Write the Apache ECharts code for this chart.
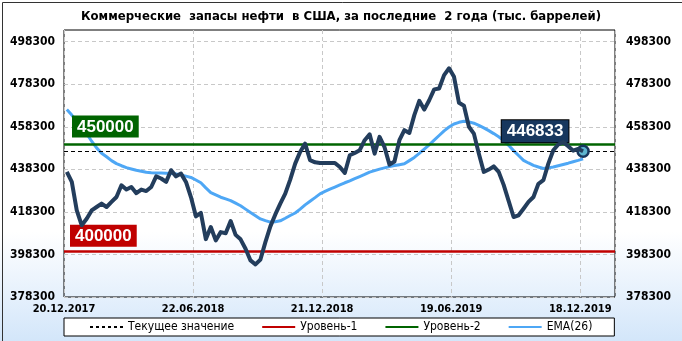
<!DOCTYPE html>
<html><head><meta charset="utf-8">
<script src="https://cdn.jsdelivr.net/npm/echarts@6/dist/echarts.min.js"></script>
<style>html,body{margin:0;padding:0;background:#fff}#c{width:682px;height:341px}</style>
</head><body><div id="c"></div>
<script>
const chartTitle = 'Коммерческие  запасы нефти  в США, за последние  2 года (тыс. баррелей)';
const xTickLabels = ['20.12.2017', '22.06.2018', '21.12.2018', '19.06.2019', '18.12.2019'];
const yTicks = [378300, 398300, 418300, 438300, 458300, 478300, 498300];
const legendNames = ['Текущее значение', 'Уровень-1', 'Уровень-2', 'EMA(26)'];
const axisStartDate = '2017-12-20';
const firstPointDate = '2017-12-24';
const level1 = 400000;
const level2 = 450000;
// weekly commercial crude stocks, thousand barrels
const stocks = [
  437100, 432400, 419000, 412000, 415100, 419000, 420600, 422200, 420600, 423000,
  425300, 430800, 428800, 430000, 427100, 428800, 428100, 430000, 435000, 434000,
  432400, 437900, 435000, 436300, 432400, 425300, 416200, 417800, 405500, 411200,
  404900, 408800, 408300, 414000, 407500, 405400, 401000, 395500, 393600, 395900,
  404100, 411500, 417100, 422200, 426900, 433500, 441000, 446500, 450400, 442600,
  441600, 441300, 441300, 441300, 441300, 439400, 436600, 444900, 446000, 447300,
  452000, 454800, 445700, 453600, 448700, 440500, 442000, 452000, 456700, 455400,
  463800, 470500, 466400, 470800, 475900, 476300, 482600, 485800, 481800, 469600,
  468200, 458300, 455100, 445700, 437100, 438200, 439700, 437100, 431000, 423500,
  415900, 416700, 419800, 423000, 425300, 431500, 433200, 441000, 447300, 450000,
  451100, 449200, 447100, 447900, 446833
];
const ema26 = [
  466400, 463800, 460900, 458000, 455100, 451500, 448400, 445900, 444200, 442400,
  441000, 440000, 439100, 438500, 437900, 437400, 436900, 436700, 436600, 436600,
  436500, 436400, 436100, 435700, 435100, 434500, 433300, 432000, 429600, 427400,
  426300, 425200, 424400, 423600, 422400, 421200, 419600, 418000, 416500, 415000,
  414200, 413500, 413700, 414100, 415300, 416600, 417800, 419600, 421600, 423300,
  425000, 426800, 427900, 429000, 430000, 431000, 432000, 432900, 433900, 434900,
  435900, 437000, 437700, 438400, 439000, 439600, 440100, 440500, 440900, 442400,
  443900, 445800, 447800, 449800, 452000, 454200, 456400, 458200, 459600, 460400,
  460900, 460600, 460000, 459000, 457800, 456500, 455100, 453600, 451900, 449600,
  447100, 444800, 442500, 441300, 440200, 439400, 438700, 439000, 439400, 440000,
  440600, 441200, 441900, 442500, 443200
];

const DAY = 86400000;
const t0 = Date.parse(axisStartDate);
const t1 = Date.parse(firstPointDate);
const dayOf = i => Math.round((t1 - t0) / DAY) + 7 * i;
const stockData = stocks.map((v, i) => [dayOf(i), v]);
const emaData = ema26.map((v, i) => [dayOf(i), v]);
const lastIdx = stocks.length - 1;
const current = stocks[lastIdx];
const xStep = 182;
const xMax = 777;

const FONT = '"DejaVu Sans Condensed", "DejaVu Sans", sans-serif';
const chart = echarts.init(document.getElementById('c'), null, {renderer: 'canvas'});

const yAxisCommon = {
  type: 'value', min: yTicks[0], max: 503800,
  axisLine: {show: false}, axisTick: {show: false, customValues: yTicks},
  axisLabel: {customValues: yTicks, formatter: v => String(v), color: '#000', fontWeight: 'bold', fontSize: 12, fontFamily: FONT},
  splitLine: {show: true, lineStyle: {color: '#c8c8c8', type: [4, 3], width: 1}}
};

chart.setOption({
  backgroundColor: {
    type: 'linear', x: 0, y: 0, x2: 0, y2: 1,
    colorStops: [{offset: 0, color: '#ffffff'}, {offset: 0.68, color: '#ffffff'}, {offset: 1, color: '#d3e6fa'}]
  },
  animation: false,
  title: {
    text: chartTitle, left: 'center', top: 5,
    textStyle: {fontSize: 13, fontWeight: 'bold', color: '#000', fontFamily: FONT}
  },
  grid: {left: 64, right: 67, top: 30, bottom: 44, show: true, borderColor: '#000', borderWidth: 1, backgroundColor: 'transparent'},
  legend: {
    data: legendNames, bottom: 5, left: 64,
    padding: [3, 22, 3, 25], itemGap: 27, itemWidth: 33, itemHeight: 10,
    borderColor: '#000', borderWidth: 1, backgroundColor: '#fff',
    itemStyle: {opacity: 0},
    textStyle: {fontSize: 12, color: '#000', fontFamily: FONT}
  },
  xAxis: {
    type: 'value', min: 0, max: xMax, interval: xStep,
    axisLine: {show: false}, axisTick: {show: false},
    axisLabel: {
      showMaxLabel: false, color: '#000', fontWeight: 'bold', fontSize: 11, fontFamily: FONT, margin: 7,
      formatter: v => xTickLabels[Math.round(v / xStep)] || ''
    },
    splitLine: {show: true, lineStyle: {color: '#c8c8c8', type: [4, 3], width: 1}}
  },
  yAxis: [
    Object.assign({}, yAxisCommon, {position: 'left', axisLabel: Object.assign({}, yAxisCommon.axisLabel, {margin: 9})}),
    Object.assign({}, yAxisCommon, {position: 'right', splitLine: {show: false}, axisLabel: Object.assign({}, yAxisCommon.axisLabel, {margin: 11})})
  ],
  series: [
    {
      name: legendNames[0], type: 'line', data: [], symbol: 'none', z: 3,
      itemStyle: {color: '#000'},
      lineStyle: {color: '#000', type: [3, 3], width: 1},
      markLine: {
        silent: true, symbol: 'none', label: {show: false},
        lineStyle: {color: '#000', type: [4, 3], width: 1},
        data: [{yAxis: current}]
      }
    },
    {
      name: legendNames[1], type: 'line', data: [], symbol: 'none', z: 3,
      itemStyle: {color: '#c00000'}, lineStyle: {color: '#c00000', width: 2.5},
      markLine: {
        silent: true, symbol: 'none',
        lineStyle: {color: '#c00000', type: 'solid', width: 2.5},
        label: {
          show: true, position: 'insideStartTop', formatter: String(level1), distance: [6, 4],
          color: '#fff', backgroundColor: '#c00000', fontSize: 17, fontWeight: 'bold',
          fontFamily: '"Liberation Sans", sans-serif', padding: [3, 5, 2, 5]
        },
        data: [{yAxis: level1}]
      }
    },
    {
      name: legendNames[2], type: 'line', data: [], symbol: 'none', z: 3,
      itemStyle: {color: '#006400'}, lineStyle: {color: '#006400', width: 2.5},
      markLine: {
        silent: true, symbol: 'none',
        lineStyle: {color: '#006400', type: 'solid', width: 2.5},
        label: {
          show: true, position: 'insideStartTop', formatter: String(level2), distance: [8, 7],
          color: '#fff', backgroundColor: '#006400', fontSize: 17, fontWeight: 'bold',
          fontFamily: '"Liberation Sans", sans-serif', padding: [3, 5, 2, 5]
        },
        data: [{yAxis: level2}]
      }
    },
    {
      name: legendNames[3], type: 'line', data: emaData, symbol: 'none', z: 4,
      itemStyle: {color: '#4ea7f5'}, lineStyle: {color: '#4ea7f5', width: 3}
    },
    {
      name: 'Запасы', type: 'line', data: stockData, symbol: 'none', z: 5,
      itemStyle: {color: '#233d5c'}, lineStyle: {color: '#233d5c', width: 4, join: 'round'},
      markPoint: {
        silent: true, symbol: 'circle', symbolSize: 11,
        itemStyle: {color: '#5db5d0', borderColor: '#17375e', borderWidth: 2.5},
        label: {
          show: true, position: 'inside', offset: [-48, -20], formatter: String(current),
          color: '#fff', backgroundColor: '#17375e', borderColor: '#000', borderWidth: 1,
          fontSize: 17, fontWeight: 'bold', fontFamily: '"Liberation Sans", sans-serif', padding: [3, 5, 2, 5]
        },
        data: [{coord: stockData[lastIdx], value: current}]
      }
    }
  ],
  graphic: [{
    type: 'rect', left: 0, top: 0, silent: true, z: 100,
    shape: {x: 0.5, y: 0.5, width: 681, height: 340},
    style: {fill: 'none', stroke: '#333', lineWidth: 1}
  }]
});
</script></body></html>
